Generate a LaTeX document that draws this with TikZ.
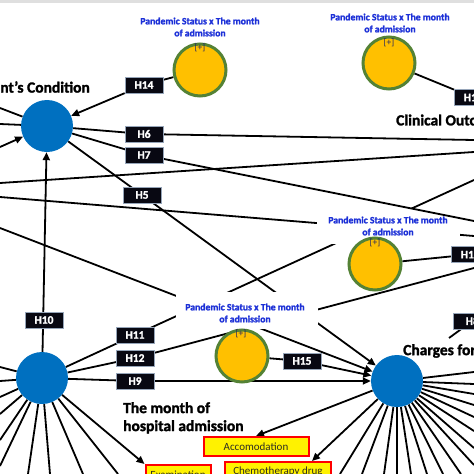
\documentclass[tikz,border=0pt]{standalone}
\usepackage{fontspec}
\setmainfont{Carlito}[BoldFeatures={FakeBold=1.6}]
\usetikzlibrary{arrows.meta,calc}
\pgfdeclarelayer{bg}
\pgfdeclarelayer{wb}
\pgfdeclarelayer{mid}
\pgfsetlayers{bg,wb,mid,main}
\definecolor{cblue}{RGB}{0,112,192}
\definecolor{corange}{RGB}{255,192,0}
\definecolor{cgreen}{RGB}{84,130,53}
\definecolor{hdark}{RGB}{8,8,18}
\definecolor{hborder}{RGB}{150,165,185}
\definecolor{pblue}{RGB}{28,48,215}
\definecolor{pnavy}{RGB}{40,40,95}
\definecolor{ytext}{RGB}{45,45,35}
\begin{document}
\begin{tikzpicture}[x=1pt,y=-1pt,
  bc/.style={circle,fill=cblue,minimum size=52pt,inner sep=0pt},
  oc/.style={circle,fill=corange,draw=cgreen,line width=3pt,minimum size=52pt,inner sep=0pt},
  hb/.style={fill=hdark,draw=hborder,line width=0.6pt,text=white,font=\bfseries\fontsize{11.5}{12}\selectfont,minimum width=38pt,minimum height=16pt,inner sep=0pt},
  yb/.style={fill=yellow,draw=red,line width=2pt,font=\fontsize{11}{13}\selectfont,text=ytext,inner sep=0pt},
  plab/.style={text=pblue,font=\bfseries\fontsize{9.7}{12}\selectfont,align=center,inner sep=0pt},
  plus/.style={text=pnavy,font=\fontsize{9.5}{10}\selectfont,inner sep=0pt},
  big/.style={font=\bfseries\fontsize{15.5}{18}\selectfont,inner sep=0pt},
  ln/.style={line width=1.8pt},
  arr/.style={ln,-{Triangle[length=8pt,width=7pt]}},
]
\useasboundingbox (0,0) rectangle (474,474);
\clip (0,0) rectangle (474,474);
\fill[gray!25] (0,0) rectangle (474,2.5);

% circles
\node[bc] (A) at (47,126) {};
\node[bc] (B) at (42,378) {};
\node[bc] (C) at (397,381) {};
\node[oc] (O1) at (200,70) {};
\node[oc] (O2) at (389,63) {};
\node[oc] (O3) at (375,264) {};
\node[oc] (O4) at (242,356) {};

% moderator labels
\node[plab] (L1) at (200,27) {Pandemic Status x The month\\of admission};
\node[plab] (L2) at (390,23) {Pandemic Status x The month\\of admission};
\node[plab] (L3) at (388,226) {Pandemic Status x The month\\of admission};
\node[plab] (L4) at (245,313) {Pandemic Status x The month\\of admission};
\node[plus] (P1) at (200,48) {[+]};
\node[plus] (P2) at (389,43) {[+]};
\node[plus] (P3) at (375,243) {[+]};
\node[plus] (P4) at (241,334) {[+]};

% titles
\node[big,anchor=east] (PC) at (90,87) {Patient's Condition};
\node[big,anchor=west] (CO) at (396,120) {Clinical Outcome};
\node[big,anchor=west] (CH) at (403,351) {Charges for};
\node[big,anchor=north west,align=left] (MH) at (123,402) {The month of\\hospital admission};

% hypothesis boxes
\node[hb] (H14) at (144,85) {H14};
\node[hb] (H6) at (144,134) {H6};
\node[hb] (H7) at (144,155) {H7};
\node[hb] (H5) at (142,195) {H5};
\node[hb] (H10) at (44,320) {H10};
\node[hb] (H11) at (135,335) {H11};
\node[hb] (H12) at (135,358) {H12};
\node[hb] (H9) at (135,381) {H9};
\node[hb] (H15) at (302,361) {H15};
\node[hb,anchor=west] (HR1) at (454,97.5) {H13};
\node[hb,anchor=west] (HR2) at (451,254.5) {H16};
\node[hb,anchor=west] (HR3) at (453,321) {H8};

% cost boxes
\node[yb,minimum width=105pt,minimum height=19pt] (Acc) at (256,446.5) {Accomodation};
\node[yb,minimum width=106pt,minimum height=20pt] (Chemo) at (278,472) {Chemotherapy drug};
\node[yb,minimum width=65pt,minimum height=20pt] (Ex) at (178,475) {Examination};

% free ends
\coordinate (a1) at (0,108);
\coordinate (a2) at (0,124);
\coordinate (a3) at (0,147);
\coordinate (r6) at (474,140);
\coordinate (r7) at (474,221);
\coordinate (la) at (0,183);
\coordinate (ra) at (474,152);
\coordinate (lb) at (0,197);
\coordinate (rb) at (474,236);
\coordinate (lc) at (0,228);
\coordinate (r11) at (474,180);
\coordinate (r12) at (474,268);
\coordinate (s3) at (449,338);

\begin{pgfonlayer}{wb}
  \fill[white] (317,209) rectangle (460,244);
  \fill[white] (176,292) rectangle (318,329);
\end{pgfonlayer}

\begin{pgfonlayer}{mid}
  \draw[ln] (A) -- (H7.center) -- (r7);
\end{pgfonlayer}

\begin{pgfonlayer}{bg}
  \draw[ln] (a1) -- (A);
  \draw[ln] (a2) -- (A);
  \draw[arr] (a3) -- (A);
  \draw[arr] (B) -- (A);
  \draw[ln] (O1) -- (H14);
  \draw[arr] (H14) -- (A);
  \draw[ln] (A) -- (H6.center) -- (r6);
  \draw[ln] (la) -- (ra);
  \draw[ln] (lb) -- (rb);
  \draw[arr] (A) -- (H5.center) -- (C);
  \draw[arr] (lc) -- (C);
  \draw[arr] (B) -- (H9.center) -- (C);
  \draw[arr] (O4) -- (H15.center) -- (C);
  \draw[ln] (B) -- (H11.center) -- (r11);
  \draw[ln] (B) -- (H12.center) -- (r12);
  \draw[ln] (O2) -- (HR1);
  \draw[ln] (O3) -- (HR2);
  \draw[ln] (s3) -- (HR3);
  \draw[arr] (C) -- (Acc.north);
  \draw[arr] (C) -- ($(Chemo.north)+(34,0)$);
  \draw[arr] (B) -- (Ex.north west);
  % rays from B
  \foreach \p in {(0,367),(0,381),(0,397),(0,414),(0,440),(0,466),(28,474),(50,474),(83,474),(118,474)}
    \draw[ln] (B) -- \p;
  % rays from C
  \foreach \p in {(474,372),(474,384),(474,394),(474,405),(474,417),(474,431),(474,448),(474,465),
                  (340,474),(362,474),(384,474),(397,474),(411,474),(427,474),(443,474),(461,474)}
    \draw[ln] (C) -- \p;
\end{pgfonlayer}
\end{tikzpicture}
\end{document}
